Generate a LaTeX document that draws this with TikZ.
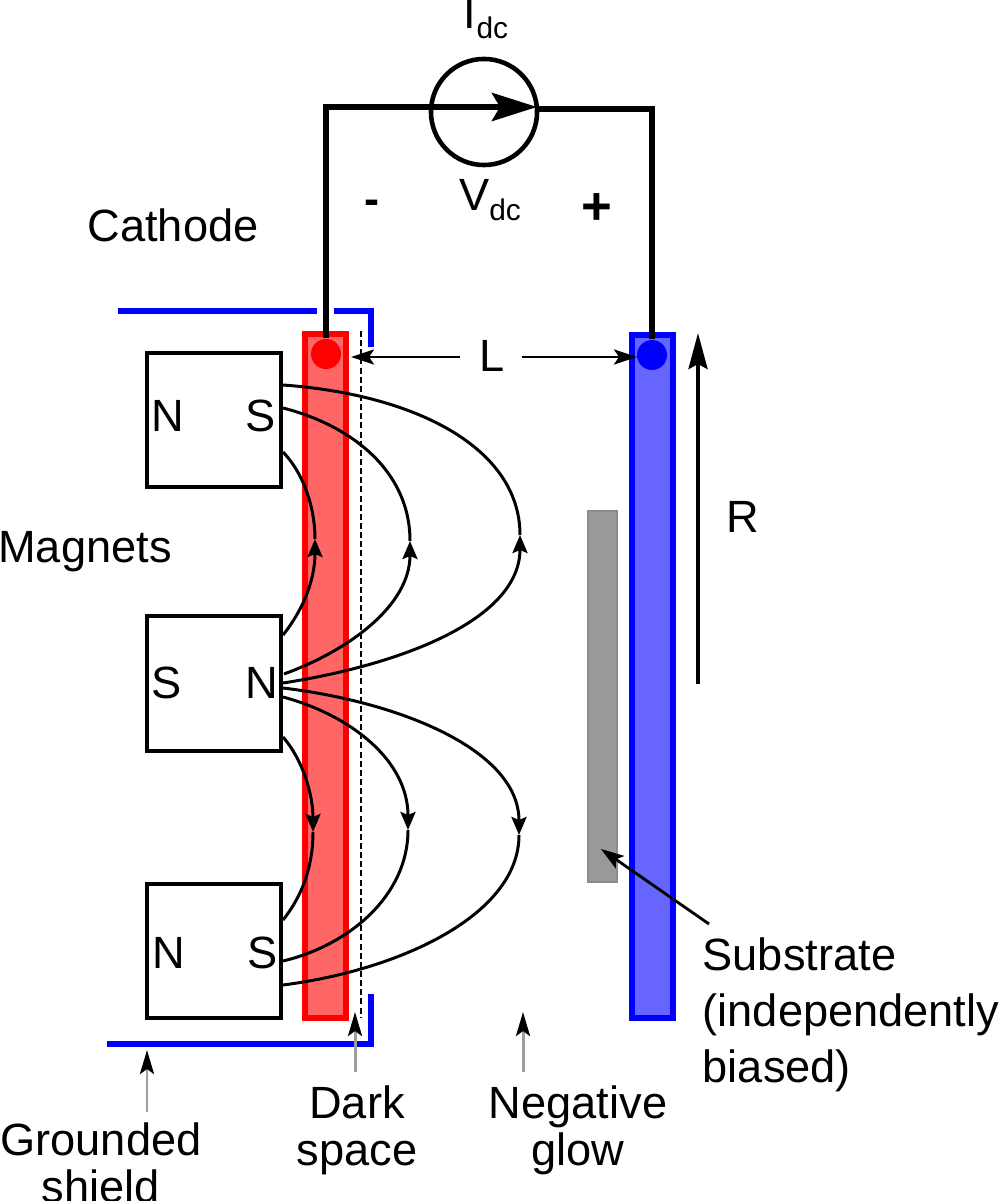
\documentclass[tikz,border=0pt]{standalone}
\usepackage{fontspec}
\setmainfont{Liberation Sans}
\usepackage{xcolor}
\usetikzlibrary{arrows.meta}
\definecolor{cathfill}{HTML}{FF6666}
\definecolor{anofill}{HTML}{6666FF}
\newcommand{\dcsub}{\raisebox{-0.1cm}{\fontsize{8.5}{10}\selectfont dc}}
\tikzset{
    label/.style={font=\fontsize{12.85}{13.3}\selectfont, inner sep=0pt, align=center},
    magnet/.style={draw, line width=1.15pt, minimum width=1.34cm, minimum height=1.34cm, inner sep=0pt},
    electrode/.style={line width=1.5pt},
    contact/.style={circle, inner sep=0pt, minimum size=0.3cm},
    wire/.style={line width=1.7pt},
    shield/.style={blue, line width=1.45pt},
    field/.style={line width=0.85pt},
    fieldtip/.style={field, -{Stealth[length=0.18cm, width=0.15cm, inset=0.03cm]}},
    pointer/.style={black!38, line width=0.85pt, -{Stealth[color=black, length=0.24cm, width=0.14cm, inset=0.05cm]}},
    dimline/.style={line width=0.8pt, -{Stealth[length=0.23cm, width=0.15cm, inset=0.05cm]}}
}
\begin{document}
\begin{tikzpicture}[x=0.01cm, y=-0.01cm]
    \useasboundingbox (0,0) rectangle (1000,1201);

    % Electrodes et substrat
    \draw[electrode, red, fill=cathfill] (305,334) rectangle (346,1018);
    \draw[electrode, blue, fill=anofill] (632,335) rectangle (673,1018);
    \draw[black!45, line width=0.5pt, fill=black!40] (588,511) rectangle (617,882);

    % Contacts
    \node[contact, fill=red] (cathdot) at (326,354) {};
    \node[contact, fill=blue] (anodot) at (652,355) {};

    % Circuit
    \node[circle, draw, line width=1.3pt, minimum size=1.06cm, inner sep=0pt] (source) at (484,112) {};
    \coordinate (tip) at (537,107);
    \coordinate (tipout) at (537,109);
    \draw[wire, -{Stealth[length=0.45cm, width=0.28cm, inset=0.08cm]}] (cathdot) |- (tip);
    \draw[wire] (tipout) -| (anodot);

    % Ecran de masse
    \draw[shield] (118,311) -- (317,311);
    \draw[shield] (334,311) -- (371,311) -- (371,347);
    \draw[shield] (107,1044) -- (371,1044) -- (371,994);

    % Zone sombre
    \draw[line width=0.8pt, dash pattern=on 1.7pt off 0.9pt] (361,331) -- (361,1017);

    % Aimants
    \node[magnet] (magtop) at (214,420) {};
    \node[magnet] (magmid) at (214,683.5) {};
    \node[magnet] (magbot) at (214,951) {};
    \node[label] (ntop) at (168,416) {N};
    \node[label] (stop) at (261,416) {S};
    \node[label] (smid) at (167,683) {S};
    \node[label] (nmid) at (262,683) {N};
    \node[label] (nbot) at (169,953) {N};
    \node[label] (sbot) at (263,953) {S};

    % Lignes de champ, partie haute
    \coordinate (apexa) at (315,539);
    \coordinate (apexb) at (410,541);
    \coordinate (apexc) at (520,535);
    \draw[fieldtip] (283,635) .. controls (303,610) and (315,580) .. (apexa);
    \draw[field] (apexa) .. controls (315,510) and (305,475) .. (283,452);
    \draw[fieldtip] (284,674) .. controls (350,650) and (410,605) .. (apexb);
    \draw[field] (apexb) .. controls (410,470) and (350,425) .. (283,408);
    \draw[fieldtip] (283,683) .. controls (400,665) and (520,620) .. (apexc);
    \draw[field] (apexc) .. controls (520,450) and (420,395) .. (283,385);

    % Lignes de champ, partie basse
    \coordinate (apexd) at (313,832);
    \coordinate (apexe) at (408,830);
    \coordinate (apexf) at (519,835);
    \draw[fieldtip] (283,737) .. controls (303,760) and (313,795) .. (apexd);
    \draw[field] (apexd) .. controls (313,865) and (303,895) .. (283,920);
    \draw[fieldtip] (283,697) .. controls (350,715) and (408,760) .. (apexe);
    \draw[field] (apexe) .. controls (408,895) and (350,945) .. (283,961);
    \draw[fieldtip] (283,688) .. controls (400,702) and (519,750) .. (apexf);
    \draw[field] (apexf) .. controls (519,915) and (400,970) .. (283,985);

    % Cotes
    \node[label] (lenl) at (492,356) {L};
    \coordinate (lenleft) at (351,357);
    \coordinate (lenright) at (637,357);
    \coordinate (lenstarta) at (460,357);
    \coordinate (lenstartb) at (522,357);
    \draw[dimline] (lenstarta) -- (lenleft);
    \draw[dimline] (lenstartb) -- (lenright);
    \node[label] (lenr) at (743,517) {R};
    \coordinate (rbase) at (698,684);
    \coordinate (rtip) at (698,333);
    \draw[line width=1.1pt, -{Stealth[length=0.36cm, width=0.19cm, inset=0.05cm]}] (rbase) -- (rtip);

    % Textes
    \node[label] (idc) at (486,18) {I\dcsub};
    \node[label] (vdc) at (490,200) {V\dcsub};
    \node[label, font=\fontsize{12.85}{13.3}\bfseries] (minus) at (372,207) {-};
    \node[label, font=\fontsize{15}{16}\bfseries] (plus) at (597,209) {+};
    \node[label] (cathode) at (173,225) {Cathode};
    \node[label] (magnets) at (85,552) {Magnets};
    \node[label, font=\fontsize{12.85}{16}\selectfont, align=left, anchor=west] (subs) at (702,1015) {Substrate\\(independently\\biased)};
    \node[label] (ground) at (101,1163) {Grounded\\shield};
    \node[label] (dark) at (357,1130) {Dark\\space};
    \node[label] (glow) at (578,1130) {Negative\\glow};

    % Fleches des textes
    \coordinate (subsbase) at (709,924);
    \coordinate (substip) at (601,849);
    \draw[dimline] (subsbase) -- (substip);
    \coordinate (groundbase) at (147,1112);
    \coordinate (groundtip) at (147,1050);
    \coordinate (darkbase) at (355,1072);
    \coordinate (darktip) at (355,1012);
    \coordinate (glowbase) at (523,1072);
    \coordinate (glowtip) at (523,1012);
    \foreach \p in {ground,dark,glow} {
        \draw[pointer] (\p base) -- (\p tip);
    }
\end{tikzpicture}
\end{document}
